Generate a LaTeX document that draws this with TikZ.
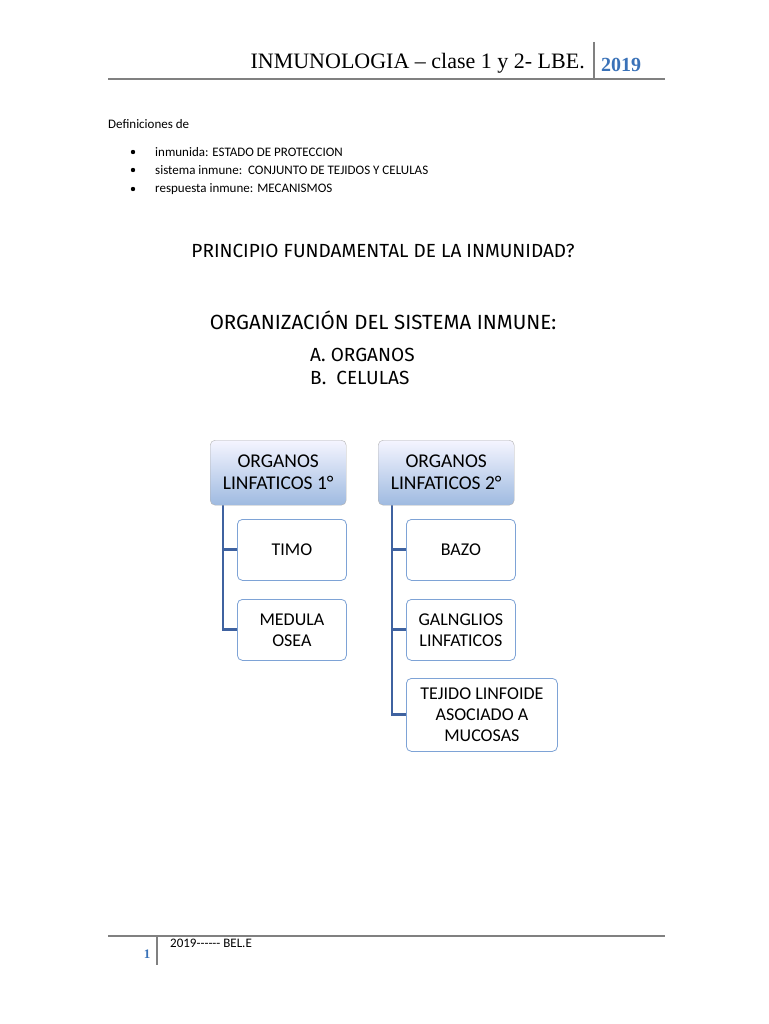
\documentclass[tikz,border=0pt]{standalone}
\usepackage{fontspec}
\setmainfont{Carlito}
\newfontfamily\hdr{Liberation Serif}
\newfontfamily\cmc{Fira Sans}
\definecolor{lnk}{HTML}{3F62A0}
\definecolor{bx}{HTML}{7EA3D6}
\definecolor{yrc}{HTML}{3A72B8}
\begin{document}
\begin{tikzpicture}[x=1pt,y=-1pt,
  top/.style={draw=gray!60,rounded corners=5pt,top color=blue!4,bottom color=bx!75,minimum width=136pt,minimum height=65pt,align=center,font=\fontsize{19.5}{22}\selectfont,anchor=north west},
  sub/.style={draw=bx,line width=0.8pt,rounded corners=5pt,fill=white,minimum width=109pt,minimum height=61pt,align=center,font=\fontsize{18}{21}\selectfont,anchor=north west},
  conn/.style={draw=lnk,line width=2.2pt},
  txt/.style={anchor=west,inner sep=0,font=\fontsize{13}{15}\selectfont}]
\useasboundingbox (0,0) rectangle (768,1024);
\fill[white] (0,0) rectangle (768,1024);
% header
\draw[gray,line width=2.5pt] (108,79) coordinate (h1) -- (665,79) coordinate (h2);
\draw[gray,line width=1.5pt] (594,42) coordinate (v1) -- (594,79) coordinate (v2);
\node[anchor=east,inner sep=0,font=\hdr\fontsize{22}{24}\selectfont] (title) at (585,63) {INMUNOLOGIA – clase 1 y 2- LBE.};
\node[anchor=west,inner sep=0,font=\hdr\bfseries\fontsize{20}{22}\selectfont,text=yrc] (yr) at (601,65) {2019};
% definitions
\node[txt] (def) at (108,124) {Definiciones de};
\foreach \y/\t/\n in {152/inmunida: ESTADO DE PROTECCION/b1,170/sistema inmune:\ \ CONJUNTO DE TEJIDOS Y CELULAS/b2,189/respuesta inmune: MECANISMOS/b3}{
  \fill (133,\y) circle (2.2pt);
  \node[txt] (\n) at (155,\y) {\t};}
\node[font=\cmc\fontsize{19}{22}\selectfont] (p) at (383,251) {PRINCIPIO FUNDAMENTAL DE LA INMUNIDAD?};
\node[font=\cmc\fontsize{20.5}{22}\selectfont] (o) at (383,320) {ORGANIZACIÓN DEL SISTEMA INMUNE:};
\node[anchor=west,inner sep=0,font=\cmc\fontsize{19}{22}\selectfont] (a) at (310,355) {A.\ ORGANOS};
\node[anchor=west,inner sep=0,font=\cmc\fontsize{19}{22}\selectfont] (b) at (310,378) {B.\ \ CELULAS};
% diagram
\draw[conn] (223,505) coordinate (l1) |- (237,549.5) coordinate (l2);
\draw[conn] (223,540) coordinate (l3) |- (237,629.5) coordinate (l4);
\draw[conn] (392,505) coordinate (r1) |- (406,549.5) coordinate (r2);
\draw[conn] (392,540) coordinate (r3) |- (406,629.5) coordinate (r4);
\draw[conn] (392,620) coordinate (r5) |- (406,714.5) coordinate (r6);
\node[top] (t1) at (210,440) {ORGANOS\\LINFATICOS 1°};
\node[top] (t2) at (378,440) {ORGANOS\\LINFATICOS 2°};
\node[sub] (timo) at (237,519) {TIMO};
\node[sub] (med) at (237,599) {MEDULA\\OSEA};
\node[sub] (bazo) at (406,519) {BAZO};
\node[sub] (gal) at (406,599) {GALNGLIOS\\LINFATICOS};
\node[sub,minimum width=151pt,minimum height=73pt] (tej) at (406,678) {TEJIDO LINFOIDE\\ASOCIADO A\\MUCOSAS};
% footer
\draw[gray,line width=2.5pt] (108,936) coordinate (f1) -- (665,936) coordinate (f2);
\draw[gray,line width=1.5pt] (157,936) coordinate (f3) -- (157,965) coordinate (f4);
\node[inner sep=0,font=\hdr\bfseries\fontsize{13}{14}\selectfont,text=yrc] (pg) at (147,954) {1};
\node[txt] (ft) at (170,943) {2019\mbox{-}\mbox{-}\mbox{-}\mbox{-}\mbox{-}\mbox{-} BEL.E};
\end{tikzpicture}
\end{document}
